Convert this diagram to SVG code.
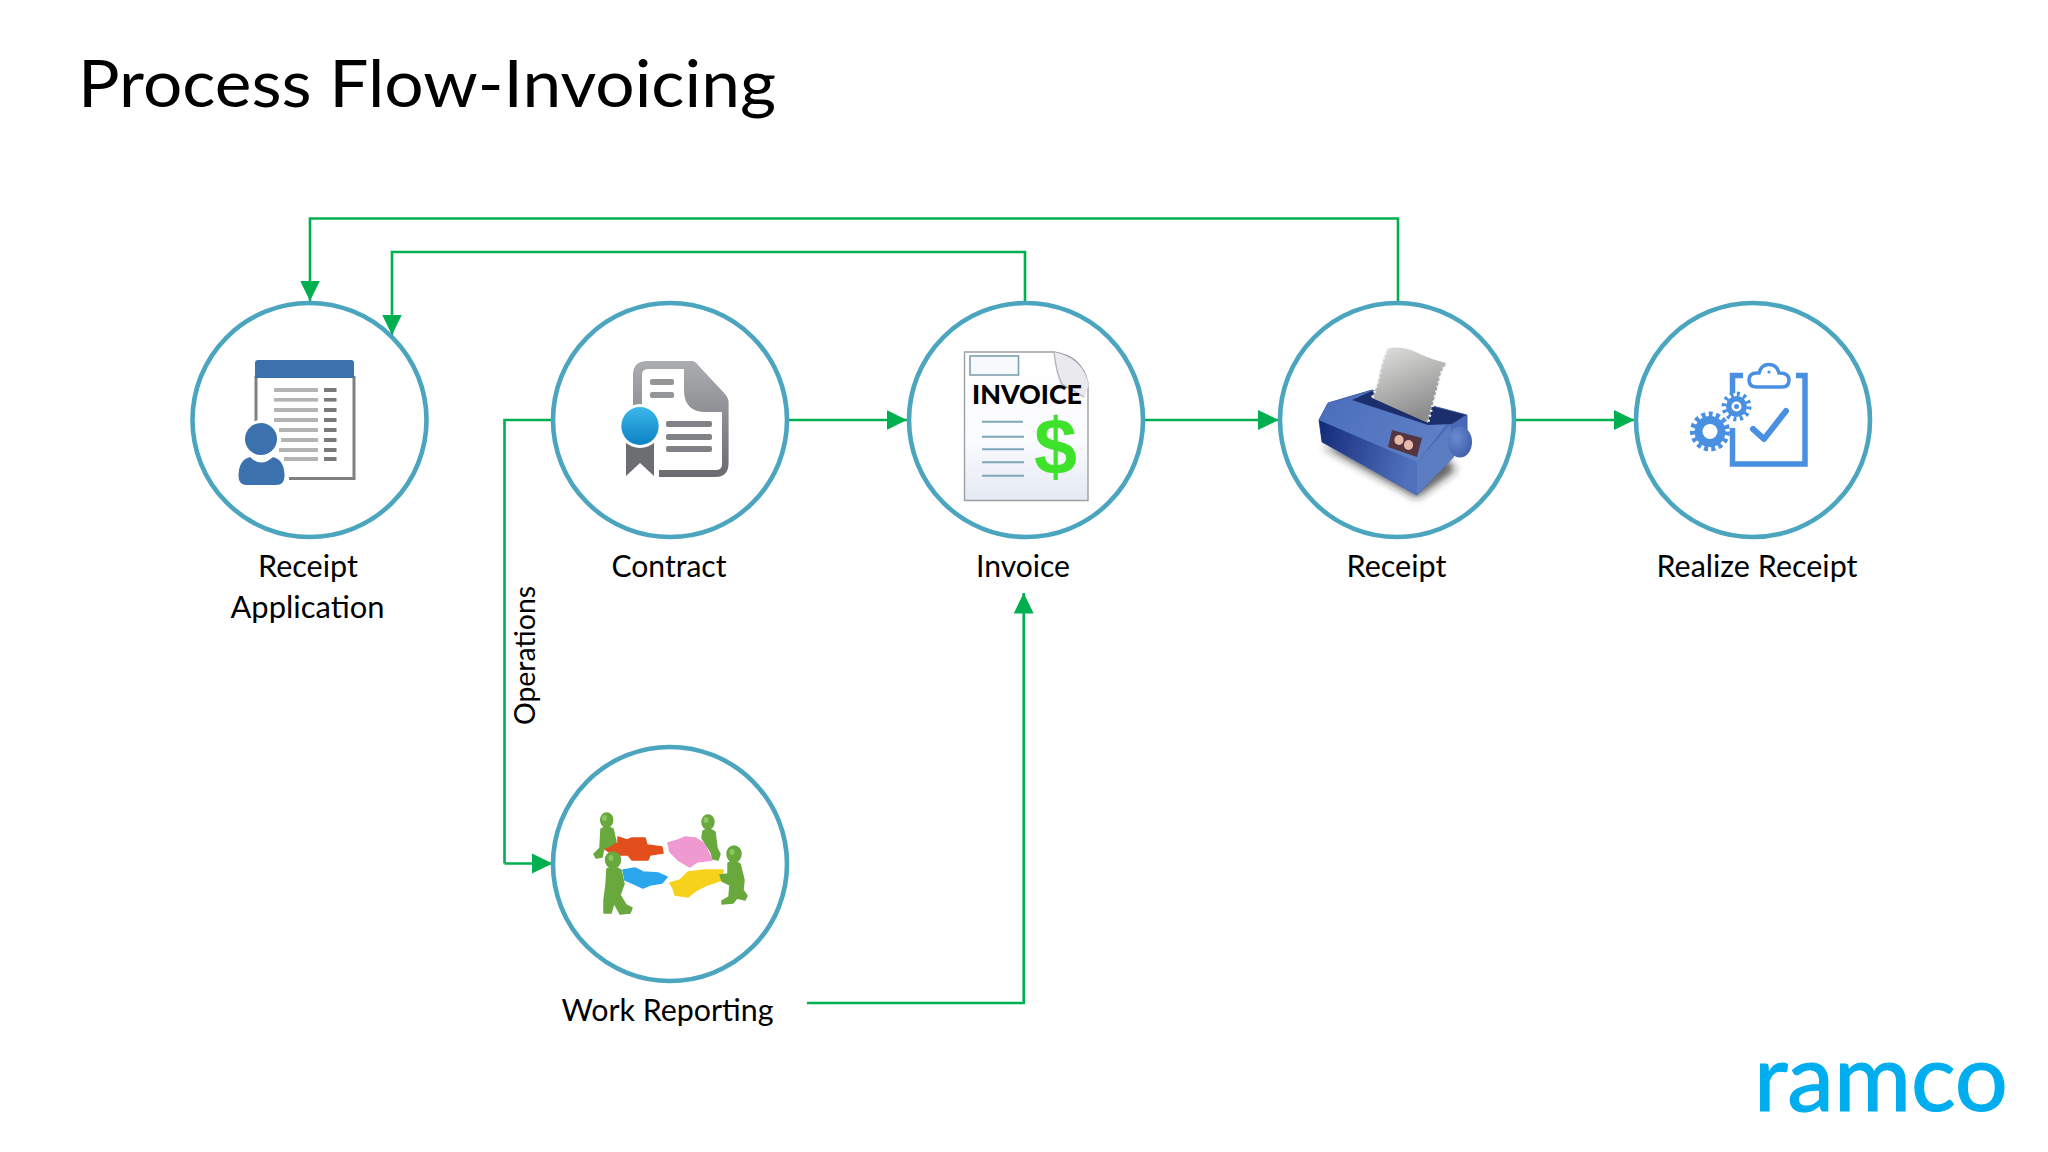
<svg xmlns="http://www.w3.org/2000/svg" width="2048" height="1152" viewBox="0 0 2048 1152">
<style>
text{font-family:"Lato","Carlito","Liberation Sans",sans-serif;fill:#000}
.lbl{font-size:30.5px;text-anchor:middle;lengthAdjust:spacingAndGlyphs}
.ring{fill:#fff;stroke:#4BA5BF;stroke-width:4.6}
.conn{fill:none;stroke:#00B050;stroke-width:2.6;marker-end:url(#ah)}
.plain{fill:none;stroke:#00B050;stroke-width:2.6}
.rowa{fill:#B4B4B4}.rowb{fill:#7A7A7A}
.bar{fill:#808285}
.inv{stroke:#7FA7B8;stroke-width:2;fill:none}
.fig{fill:#68A83E;stroke:#68A83E;stroke-width:1.5;stroke-linejoin:round}
.hi{fill:#8CC65E}
.pz{stroke-width:1.5;stroke-linejoin:round}
</style>
<defs>
<marker id="ah" markerUnits="userSpaceOnUse" markerWidth="21" markerHeight="21" refX="20.5" refY="10.5" orient="auto"><path d="M0,0.5 L20.5,10.5 L0,20.5Z" fill="#00B050"/></marker>
<linearGradient id="gDoc" x1="0" y1="0" x2="0" y2="1"><stop offset="0" stop-color="#ABADB0"/><stop offset="1" stop-color="#6A6B6E"/></linearGradient>
<linearGradient id="gMedal" x1="0" y1="0" x2="0" y2="1"><stop offset="0" stop-color="#3CB7EA"/><stop offset="1" stop-color="#0B82C4"/></linearGradient>
<linearGradient id="gInv" x1="0" y1="0" x2="0" y2="1"><stop offset="0" stop-color="#FFFFFF"/><stop offset="0.6" stop-color="#FAFBFE"/><stop offset="1" stop-color="#E4E9F3"/></linearGradient>
<linearGradient id="gPaper" x1="0" y1="0" x2="0.4" y2="1"><stop offset="0" stop-color="#E2E2E0"/><stop offset="1" stop-color="#8C8C8C"/></linearGradient>
<linearGradient id="gLeft" x1="0" y1="0" x2="1" y2="0.2"><stop offset="0" stop-color="#142A78"/><stop offset="1" stop-color="#4F70BC"/></linearGradient>
<linearGradient id="gTop" x1="0" y1="0" x2="1" y2="0.4"><stop offset="0" stop-color="#4A6DBA"/><stop offset="1" stop-color="#5E7FC6"/></linearGradient>
<radialGradient id="gKnob" cx="0.35" cy="0.35" r="0.8"><stop offset="0" stop-color="#6A8BD0"/><stop offset="1" stop-color="#3B5AA8"/></radialGradient>
<filter id="soft" x="-10%" y="-10%" width="120%" height="120%"><feGaussianBlur stdDeviation="0.7"/></filter>
<filter id="soft2" x="-10%" y="-10%" width="120%" height="120%"><feGaussianBlur stdDeviation="0.5"/></filter>
<filter id="shadow" x="-20%" y="-30%" width="140%" height="160%"><feGaussianBlur stdDeviation="4"/></filter>
</defs>
<rect width="2048" height="1152" fill="#fff"/>
<text id="title" x="78" y="107" font-size="66" textLength="698" lengthAdjust="spacingAndGlyphs">Process Flow-Invoicing</text>

<g id="connectors">
<path class="conn" d="M1398,303 V218.5 H310 V301"/>
<path class="conn" d="M1025,303 V252 H392 V335"/>
<path class="plain" d="M552,420 H504.5 V863.5"/>
<path class="conn" d="M504.5,863.5 H552.5"/>
<path class="conn" d="M788,420 H907"/>
<path class="conn" d="M1144,420 H1278.5"/>
<path class="conn" d="M1516,420 H1634.5"/>
<path class="conn" d="M807,1003 H1023.7 V593"/>
</g>

<g id="node-receipt-application">
<circle class="ring" cx="309.5" cy="420" r="117"/>
<path d="M256,376 V440 M354,376 V478.5 H289" fill="none" stroke="#808080" stroke-width="3"/>
<path d="M255,363 Q255,360 258,360 H351 Q354,360 354,363 V378 H255Z" fill="#3B72AE"/>
<g>
<rect class="rowa" x="274" y="388" width="44" height="4"/><rect class="rowb" x="324" y="388" width="12.5" height="4"/>
<rect class="rowa" x="274" y="398" width="44" height="3.6"/><rect class="rowb" x="324" y="398" width="12.5" height="3.6"/>
<rect class="rowa" x="274" y="408" width="44" height="4"/><rect class="rowb" x="324" y="408" width="12.5" height="4"/>
<rect class="rowa" x="274" y="418" width="44" height="4"/><rect class="rowb" x="324" y="418" width="12.5" height="4"/>
<rect class="rowa" x="279" y="428" width="39" height="4"/><rect class="rowb" x="324" y="428" width="12.5" height="4"/>
<rect class="rowa" x="281" y="438" width="37" height="4"/><rect class="rowb" x="324" y="438" width="12.5" height="4"/>
<rect class="rowa" x="279" y="448" width="39" height="4"/><rect class="rowb" x="324" y="448" width="12.5" height="4"/>
<rect class="rowa" x="284" y="457" width="34" height="4"/><rect class="rowb" x="324" y="457" width="12.5" height="4"/>
</g>
<ellipse cx="261" cy="439" rx="19" ry="19" fill="#fff"/>
<path d="M238.5,476 Q238.5,460 250,457 Q261,468 273,457 Q284.5,460 284.5,476 Q284.5,485 276,485 H247 Q238.5,485 238.5,476Z" fill="#3B72AE" stroke="#fff" stroke-width="2" paint-order="stroke"/>
<ellipse cx="261" cy="439" rx="16" ry="16" fill="#3B72AE"/>
<text class="lbl" x="308" y="577" textLength="100" lengthAdjust="spacingAndGlyphs">Receipt</text>
<text class="lbl" x="307.5" y="618" textLength="154" lengthAdjust="spacingAndGlyphs">Application</text>
</g>

<g id="node-contract">
<circle class="ring" cx="670" cy="420" r="117"/>
<path d="M633,405 V375 Q633,361 647,361 H692 Q695,361 698,365 L725,394 Q728.6,398 728.6,403 V463 Q728.6,477 715,477 H659 V470 H716 Q722,470 722,464 V412 H706 Q684,412 684,390 V369 H648 Q642,369 642,375 V405Z" fill="url(#gDoc)"/>
<rect class="bar" x="650" y="379" width="24" height="6" rx="2" fill-opacity=".85"/>
<rect class="bar" x="650" y="392" width="24" height="6" rx="2" fill-opacity=".85"/>
<rect class="bar" x="666" y="421" width="46" height="6" rx="2"/>
<rect class="bar" x="666" y="434" width="46" height="6" rx="2"/>
<rect class="bar" x="666" y="446" width="46" height="6" rx="2"/>
<path d="M626,443 H654 V476 L640,463 L626,476Z" fill="#6D6E71"/>
<circle cx="640" cy="426" r="22" fill="#fff"/>
<ellipse cx="640" cy="426" rx="18.7" ry="19" fill="url(#gMedal)"/>
<text class="lbl" x="669" y="577" textLength="115" lengthAdjust="spacingAndGlyphs">Contract</text>
</g>

<g id="node-invoice">
<circle class="ring" cx="1026" cy="420" r="117"/>
<path d="M964.5,352 H1054 Q1082,356 1088,383 V500.5 H964.5Z" fill="url(#gInv)" stroke="#9AA0A6" stroke-width="1.4"/>
<path d="M1054,352 Q1056,375 1060,386 L1084,398 L1089,385 Q1083,358 1054,352Z" fill="#E8E8EC" opacity="0.9"/>
<path d="M1054,352 Q1056,372 1062,384 L1084,397" fill="none" stroke="#B4B6BA" stroke-width="1.4"/>
<rect x="970" y="356" width="48.5" height="19" fill="#F7FAFC" stroke="#7F9FAE" stroke-width="1.6"/>
<text x="972" y="404" font-size="26.5" font-weight="900" textLength="110" lengthAdjust="spacingAndGlyphs">INVOICE</text>
<path class="inv" d="M982,421.7 H1023 M982,436.7 H1024 M982,449.3 H1024 M982,462.3 H1024 M982,475.7 H1024"/>
<text x="1034" y="474" font-size="80" font-weight="700" textLength="43" lengthAdjust="spacingAndGlyphs" style="font-family:'Liberation Sans',sans-serif;fill:#3FE22A">$</text>
<text class="lbl" x="1023" y="577" textLength="94" lengthAdjust="spacingAndGlyphs">Invoice</text>
</g>

<g id="node-receipt">
<circle class="ring" cx="1397" cy="420" r="117"/>
<g filter="url(#soft2)">
<path d="M1322,446 L1417,498 L1456,470 L1440,450Z" fill="#1a1a1a" opacity="0.7" filter="url(#shadow)"/>
<path d="M1319,420 L1328,403 L1372,390 L1467,415 L1467,432 L1453,457 L1417,495 L1322,442Z" fill="#4A6BB8" stroke="#3F5FAE" stroke-width="1" stroke-linejoin="round"/>
<path d="M1319,420 L1417,462 L1417,495 L1322,442Z" fill="url(#gLeft)"/>
<path d="M1417,462 L1450,425 L1454,457 L1417,495Z" fill="#5B7CC2"/>
<path d="M1319,420 L1328,403 L1372,392 L1450,420 L1417,462Z" fill="url(#gTop)"/>
<path d="M1352,400 L1372,391 L1466,415 L1452,424 L1428,425 Z" fill="#1D2E6C"/>
<path d="M1388,348 Q1404,346 1418,353 Q1432,360 1447,363 Q1440,372 1439,382 Q1434,400 1428,423 L1372,398 Q1378,384 1380,372 Q1383,358 1388,348Z" fill="url(#gPaper)"/>
<path d="M1388,348 Q1383,358 1380,372 Q1378,384 1372,398 M1447,363 Q1440,372 1439,382 Q1434,400 1428,423" fill="none" stroke="#F2F2F2" stroke-width="2.5" stroke-dasharray="2 3"/>
<path d="M1392,430 L1422,438 L1417,457 L1388,447Z" fill="#553540"/>
<ellipse cx="1399" cy="440" rx="4.6" ry="5" fill="#E9B9A8"/>
<ellipse cx="1408.5" cy="445" rx="4.6" ry="5" fill="#E9B9A8"/>
<ellipse cx="1460" cy="442" rx="12" ry="15.5" fill="url(#gKnob)"/>
</g>
<text class="lbl" x="1396.5" y="577" textLength="100" lengthAdjust="spacingAndGlyphs">Receipt</text>
</g>

<g id="node-realize-receipt">
<circle class="ring" cx="1753" cy="420" r="117"/>
<path d="M1743,375.5 H1732.5 V400 M1732.5,428 V464 H1805 V375.5 H1796" fill="none" stroke="#4A90E2" stroke-width="5.5"/>
<path d="M1757,387 H1782 Q1789,387 1789,380 Q1789,373 1779,373 Q1777,364.500 1769,364.500 Q1761,364.500 1759,373 H1757 Q1749,373 1749,380 Q1749,387 1757,387Z" fill="#fff" stroke="#4A90E2" stroke-width="3.5"/>
<circle cx="1769" cy="372" r="1.6" fill="#4A90E2"/>
<path d="M1753,429 L1764,439 L1786,411" fill="none" stroke="#4A90E2" stroke-width="6" stroke-linecap="round" stroke-linejoin="round"/>
<circle cx="1710" cy="431.5" r="15.5" fill="#4A90E2"/>
<circle cx="1710" cy="431.5" r="17.5" fill="none" stroke="#4A90E2" stroke-width="5" stroke-dasharray="4 3.33"/>
<circle cx="1710" cy="431.5" r="7.5" fill="#fff"/>
<circle cx="1736.5" cy="406.500" r="13.500" fill="#fff"/>
<circle cx="1736.5" cy="406.5" r="10.5" fill="#4A90E2"/>
<circle cx="1736.5" cy="406.5" r="12.5" fill="none" stroke="#4A90E2" stroke-width="5" stroke-dasharray="3 3.54"/>
<circle cx="1736.5" cy="406.5" r="5" fill="#fff"/>
<circle cx="1736.5" cy="406.5" r="2.5" fill="#4A90E2"/>
<text class="lbl" x="1757" y="577" textLength="201" lengthAdjust="spacingAndGlyphs">Realize Receipt</text>
</g>

<g id="node-work-reporting">
<circle class="ring" cx="670" cy="864" r="117"/>
<g filter="url(#soft)">
<path class="pz" d="M601.700,846.700 L618,843 L618,837 L627,840 L632,838 L645,838 L647,845 L662,847 L663,853 L650,855 L648,860 L632,860 L628,855 L613,855Z" fill="#E2501A" stroke="#E2501A"/>
<path class="pz" d="M668,843 L678,840 L685,837 L695,838 L702,842 L705,845 L712,860 L697,862 L690,867 L678,860 L670,852Z" fill="#EE9AD0" stroke="#EE9AD0"/>
<path class="pz" d="M623,870 L635,868 L643,872 L658,873 L667,877 L662,883 L650,885 L643,888 L632,883 L625,880Z" fill="#2AA6EC" stroke="#2AA6EC"/>
<path class="pz" d="M670,883 L680,880 L688,872 L705,870 L723,870 L722,880 L707,885 L697,890 L688,897 L675,895 L673,888Z" fill="#F7D21E" stroke="#F7D21E"/>
<g class="fig">
<ellipse cx="606.700" cy="820" rx="6" ry="7"/>
<path d="M601,829 Q607,825 613,829 L616,842 L610,846 L604,848 L602,857 L596,858 L594,854 L600,848Z"/>
<ellipse cx="708" cy="822" rx="6" ry="7"/>
<path d="M703,831 Q709,827 715,832 L717,848 L720,854 L718,860 L713,859 L711,852 L702,838Z"/>
<ellipse cx="613" cy="860" rx="7.500" ry="8"/>
<path d="M607,869 Q614,865 621,870 L624,884 L620,895 L626,905 L632,908 L630,913 L620,914 L614,903 L611,913 L604,913 L604,900 L606,885Z"/>
<ellipse cx="734" cy="854" rx="7" ry="8"/>
<path d="M728,863 Q734,859 740,864 L744,880 L743,890 L747,896 L745,900 L737,898 L733,903 L722,904 L722,901 L729,897 L730,885 L722,881 L720,875 L728,874Z"/>
</g>
<ellipse class="hi" cx="604.500" cy="818" rx="2.500" ry="3"/>
<ellipse class="hi" cx="706" cy="820" rx="2.500" ry="3"/>
<ellipse class="hi" cx="611" cy="858" rx="2.500" ry="3"/>
<ellipse class="hi" cx="732" cy="852" rx="2.500" ry="3"/>
</g>
<text class="lbl" x="667.5" y="1021" textLength="212" lengthAdjust="spacingAndGlyphs">Work Reporting</text>
</g>

<text id="edge-label-operations" transform="translate(535,725) rotate(-90)" font-size="28" textLength="139" lengthAdjust="spacingAndGlyphs">Operations</text>
<text id="logo" x="1754" y="1111" font-size="94" textLength="254" lengthAdjust="spacingAndGlyphs" style="fill:#00AEEF;stroke:#00AEEF;stroke-width:1.2">ramco</text>
</svg>
